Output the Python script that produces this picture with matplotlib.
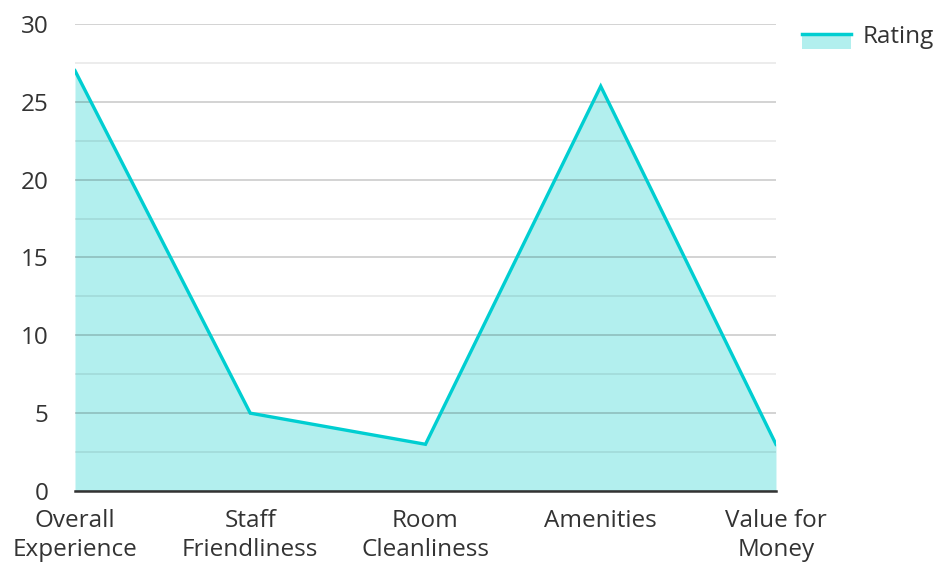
import matplotlib
matplotlib.use('Agg')
import matplotlib.pyplot as plt
from matplotlib.patches import Rectangle
from matplotlib.lines import Line2D
from matplotlib.legend_handler import HandlerBase

plt.rcParams['font.family'] = ['Open Sans', 'DejaVu Sans']

categories = ['Overall\nExperience', 'Staff\nFriendliness', 'Room\nCleanliness', 'Amenities', 'Value for\nMoney']
ratings = [27, 5, 3, 26, 3]
series_name = 'Rating'

line_color = '#00CED1'
fill_color = '#b2efee'
text_color = '#333333'
fs = 17.5


class AreaHandler(HandlerBase):
    # filled box with the line along its top, like the reference legend
    def create_artists(self, legend, orig_handle, xdescent, ydescent,
                       width, height, fontsize, trans):
        box = Rectangle((-xdescent, -ydescent - 4), width, height * 0.55 + 4,
                        facecolor=fill_color, edgecolor='none', transform=trans)
        top = -ydescent + height * 0.55
        ln = Line2D([-xdescent, -xdescent + width], [top, top],
                    color=line_color, lw=2.5, transform=trans)
        return [box, ln]


fig = plt.figure(figsize=(9.34, 5.63), dpi=100)
ax = fig.add_axes([0.0803, 0.1279, 0.7505, 0.8295])

x = list(range(len(categories)))
ax.fill_between(x, ratings, 0, color=fill_color, lw=0, zorder=1)
ax.plot(x, ratings, color=line_color, lw=2.4, zorder=3, solid_joinstyle='miter')

ax.set_xlim(0, len(categories) - 1)
ax.set_ylim(0, 30)
ax.set_yticks([0, 5, 10, 15, 20, 25, 30])
ax.set_yticks([2.5, 7.5, 12.5, 17.5, 22.5, 27.5], minor=True)
ax.set_xticks(x)
ax.set_xticklabels(categories)

ax.grid(axis='y', which='major', color='black', alpha=0.2, lw=1.2, zorder=2)
ax.grid(axis='y', which='minor', color='black', alpha=0.09, lw=1.2, zorder=2)
ax.set_axisbelow(False)

for s in ['top', 'right', 'left']:
    ax.spines[s].set_visible(False)
ax.spines['bottom'].set_color(text_color)
ax.spines['bottom'].set_linewidth(1.8)
ax.spines['bottom'].set_zorder(4)

ax.tick_params(axis='both', which='both', length=0, labelsize=fs, colors=text_color)
ax.tick_params(axis='y', pad=19)
ax.tick_params(axis='x', pad=13)
for lbl in ax.get_xticklabels():
    lbl.set_linespacing(1.28)

handle = Rectangle((0, 0), 1, 1)
leg = fig.legend([handle], [series_name], handler_map={Rectangle: AreaHandler()},
                 loc='upper left', bbox_to_anchor=(802 / 934, 1 - 25 / 563),
                 frameon=False, fontsize=fs, handlelength=2.0, handletextpad=0.5,
                 borderpad=0, borderaxespad=0)
for t in leg.get_texts():
    t.set_color(text_color)

fig.savefig('out.png', dpi=100)
